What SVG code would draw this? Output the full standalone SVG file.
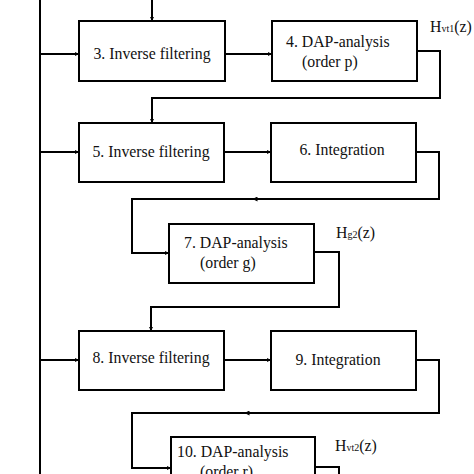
<svg xmlns="http://www.w3.org/2000/svg" width="474" height="474" viewBox="0 0 474 474">
<style>
.box{fill:#fff;stroke:#000;stroke-width:2}
.ln{fill:none;stroke:#000;stroke-width:2}
text{font-family:"Liberation Serif","Times New Roman",serif;font-size:15.8px;fill:#111}
.sub{font-size:10px}
</style>
<defs>
<marker id="ah" viewBox="0 0 10 10" refX="10" refY="5" markerWidth="4" markerHeight="4" orient="auto" markerUnits="userSpaceOnUse">
<path d="M0,0L10,5L0,10z" fill="#000"/>
</marker>
<marker id="mid" viewBox="0 0 10 10" refX="5" refY="5" markerWidth="5" markerHeight="5" orient="auto" markerUnits="userSpaceOnUse">
<path d="M0,0L10,5L0,10z" fill="#000"/>
</marker>
</defs>
<g id="connectors">
<line class="ln" x1="40" y1="0" x2="40" y2="474"/>
<line class="ln" x1="152" y1="0" x2="152" y2="21" marker-end="url(#ah)"/>
<line class="ln" x1="40" y1="54" x2="79" y2="54" marker-end="url(#ah)"/>
<line class="ln" x1="225" y1="54" x2="272" y2="54" marker-end="url(#ah)"/>
<polyline class="ln" points="417,51 440,51 440,98 152,98 152,123" marker-end="url(#ah)"/>
<line class="ln" x1="40" y1="152" x2="79" y2="152" marker-end="url(#ah)"/>
<line class="ln" x1="224" y1="152" x2="271" y2="152" marker-end="url(#ah)"/>
<polyline class="ln" points="416,152 439,152 439,199 255,199" marker-end="url(#mid)"/>
<polyline class="ln" points="256,199 132,199 132,253 169,253" marker-end="url(#ah)"/>
<polyline class="ln" points="314,252 339,252 339,307 151,307 151,331" marker-end="url(#ah)"/>
<line class="ln" x1="40" y1="360" x2="79" y2="360" marker-end="url(#ah)"/>
<line class="ln" x1="224" y1="360" x2="271" y2="360" marker-end="url(#ah)"/>
<polyline class="ln" points="416,360 439,360 439,413 247,413" marker-end="url(#mid)"/>
<polyline class="ln" points="248,413 132,413 132,468 171,468" marker-end="url(#ah)"/>
<polyline class="ln" points="315,467 339,467 339,474"/>
</g>
<g id="n3"><rect class="box" x="79" y="21" width="146" height="60"/><text x="152" y="59" text-anchor="middle">3. Inverse filtering</text></g>
<g id="n4"><rect class="box" x="272" y="21" width="145" height="60"/><text x="286" y="47">4. DAP-analysis</text><text x="302" y="67">(order p)</text></g>
<g id="l1"><text x="430" y="32">H<tspan class="sub">vt1</tspan>(z)</text></g>
<g id="n5"><rect class="box" x="79" y="123" width="145" height="59"/><text x="151" y="157" text-anchor="middle">5. Inverse filtering</text></g>
<g id="n6"><rect class="box" x="271" y="123" width="145" height="59"/><text x="342" y="155" text-anchor="middle">6. Integration</text></g>
<g id="n7"><rect class="box" x="169" y="224" width="145" height="59"/><text x="184" y="248">7. DAP-analysis</text><text x="200" y="268">(order g)</text></g>
<g id="l2"><text x="336" y="238">H<tspan class="sub">g2</tspan>(z)</text></g>
<g id="n8"><rect class="box" x="79" y="331" width="145" height="59"/><text x="151" y="363" text-anchor="middle">8. Inverse filtering</text></g>
<g id="n9"><rect class="box" x="271" y="331" width="145" height="59"/><text x="338" y="365" text-anchor="middle">9. Integration</text></g>
<g id="n10"><rect class="box" x="171" y="437" width="144" height="50"/><text x="177" y="457">10. DAP-analysis</text><text x="200" y="477">(order r)</text></g>
<g id="l3"><text x="335" y="451">H<tspan class="sub">vt2</tspan>(z)</text></g>
</svg>
